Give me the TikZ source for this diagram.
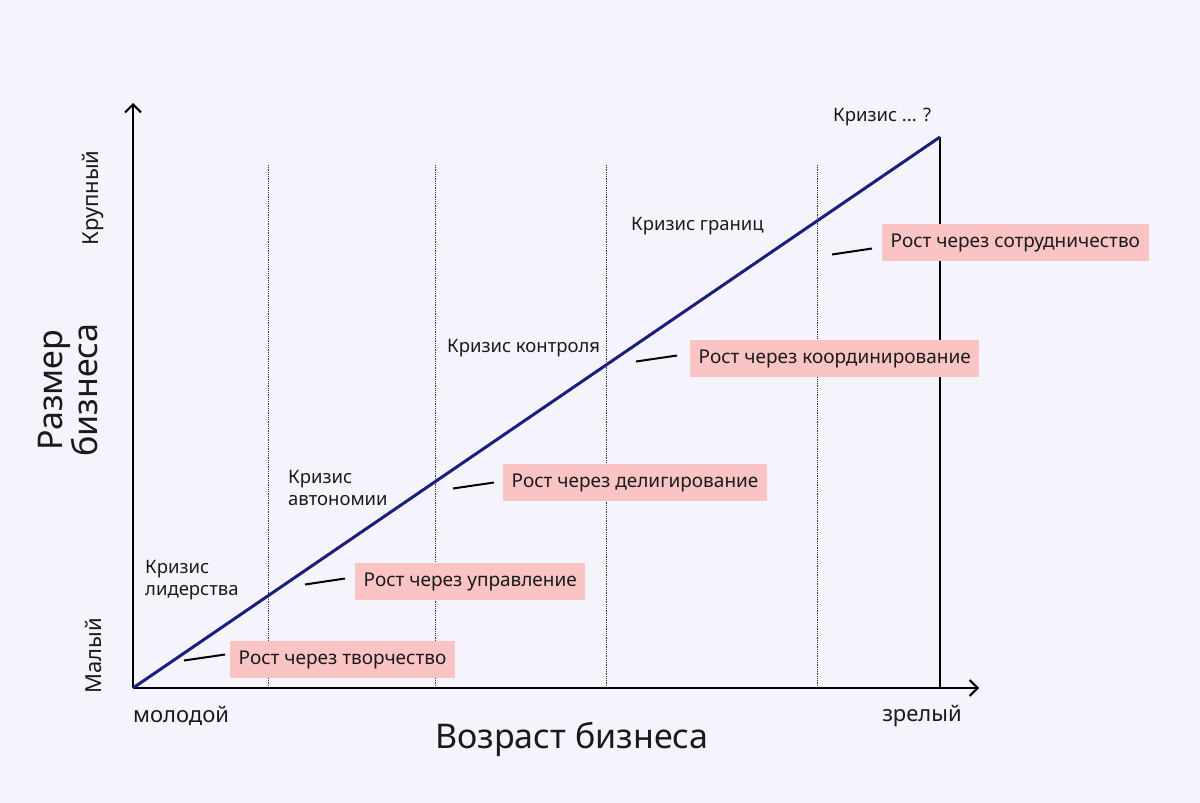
\documentclass[tikz,border=0pt]{standalone}
\usepackage{fontspec}
\setmainfont{Noto Sans}
\usetikzlibrary{arrows.meta,positioning}
\definecolor{bgcol}{HTML}{F5F4FD}
\definecolor{navyline}{HTML}{1B1F7C}
\definecolor{pinkbox}{HTML}{FAC4C4}
\definecolor{inkcol}{HTML}{1A1A1A}
\tikzset{
  growbox/.style={fill=pinkbox, text=inkcol, font=\fontsize{19}{21}\selectfont,
    minimum height=37pt, inner xsep=8.5pt, anchor=west},
  crisislabel/.style={text=inkcol, font=\fontsize{18.5}{22.5}\selectfont, align=left,
    anchor=west, inner sep=0pt},
  ticklabel/.style={text=inkcol, font=\fontsize{22}{24}\selectfont, inner sep=0pt},
  axislabel/.style={text=inkcol, font=\fontsize{34}{35}\selectfont, align=center, inner sep=0pt},
  tickline/.style={line width=2pt, black},
  phaseline/.style={densely dotted, line width=0.8pt, black!80},
  axisline/.style={line width=2pt, black, -{Straight Barb[length=8pt,width=16pt,line width=2pt]}}
}
\begin{document}
\begin{tikzpicture}[x=1pt,y=-1pt]
  \fill[bgcol] (0,0) rectangle (1200,803);
  \useasboundingbox (0,0) rectangle (1200,803);
  % axes
  \coordinate (origin) at (133,688);
  \coordinate (ytop) at (133,103);
  \coordinate (xend) at (979,688);
  \coordinate (peak) at (940,137);
  \coordinate (peakfoot) at (940,688);
  \draw[phaseline] (268,165) -- (268,688);
  \draw[phaseline] (435,165) -- (435,688);
  \draw[phaseline] (606,165) -- (606,688);
  \draw[phaseline] (817,165) -- (817,688);
  \draw[line width=2.5pt, black] (peak) -- (peakfoot);
  \draw[axisline] (origin) -- (ytop);
  \draw[axisline] (origin) -- (xend);
  \draw[line width=3pt, navyline] (origin) -- (peak);
  % crisis labels
  \node[crisislabel] (crisis1) at (145,580) {Кризис\\лидерства};
  \node[crisislabel] (crisis2) at (288,488) {Кризис\\автономии};
  \node[crisislabel] (crisis3) at (447,348) {Кризис контроля};
  \node[crisislabel] (crisis4) at (631,226) {Кризис границ};
  \node[crisislabel] (crisis5) at (833,117) {Кризис ... ?};
  % growth boxes
  \node[growbox] (grow1) at (230,659.5) {Рост через творчество};
  \node[growbox] (grow2) at (355,581.5) {Рост через управление};
  \node[growbox] (grow3) at (503,482.5) {Рост через делигирование};
  \node[growbox] (grow4) at (690,358.5) {Рост через координирование};
  \node[growbox] (grow5) at (882,242.5) {Рост через сотрудничество};
  \draw[tickline] ([xshift=-46pt,yshift=-1pt]grow1.west) -- ([xshift=-5pt,yshift=5pt]grow1.west);
  \draw[tickline] ([xshift=-50pt,yshift=-3pt]grow2.west) -- ([xshift=-10pt,yshift=3pt]grow2.west);
  \draw[tickline] ([xshift=-50pt,yshift=-6pt]grow3.west) -- ([xshift=-9pt,yshift=0pt]grow3.west);
  \draw[tickline] ([xshift=-54pt,yshift=-3pt]grow4.west) -- ([xshift=-13pt,yshift=3pt]grow4.west);
  \draw[tickline] ([xshift=-50pt,yshift=-12pt]grow5.west) -- ([xshift=-10pt,yshift=-6pt]grow5.west);
  % axis texts
  \node[ticklabel, rotate=90] (small) at (93,656) {Малый};
  \node[ticklabel, rotate=90] (large) at (93,198) {Крупный};
  \node[axislabel, rotate=90] (ytitle) at (68,390) {Размер\\бизнеса};
  \node[ticklabel, anchor=west] (young) at (133,716) {молодой};
  \node[ticklabel] (mature) at (922,716) {зрелый};
  \node[axislabel] (xtitle) at (572,739) {Возраст бизнеса};
\end{tikzpicture}
\end{document}
